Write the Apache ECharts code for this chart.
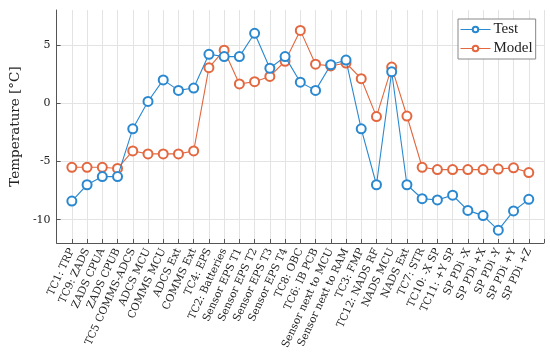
<!DOCTYPE html>
<html>
<head>
<meta charset="utf-8">
<script src="https://cdn.jsdelivr.net/npm/echarts@6/dist/echarts.min.js"></script>
<style>html,body{margin:0;padding:0;background:#fff}#c{width:550px;height:356px}</style>
</head>
<body>
<div id="c"></div>
<script>
const categories = ['TC1: TRP','TC9: ZADS','ZADS CPUA','ZADS CPUB','TC5 COMMS-ADCS','ADCS MCU','COMMS MCU','ADCS Ext','COMMS Ext','TC4: EPS','TC2: Batteries','Sensor EPS T1','Sensor EPS T2','Sensor EPS T3','Sensor EPS T4','TC8: OBC','TC6: IB PCB','Sensor next to MCU','Sensor next to RAM','TC3: FMP','TC12: NADS RF','NADS MCU','NADS Ext','TC7: STR','TC10: -X SP','TC11: +Y SP','SP PDi -X','SP PDi +X','SP PDi -Y','SP PDi +Y','SP PDi +Z'];
const testValues = [-8.4,-7.0,-6.3,-6.3,-2.2,0.15,2.0,1.1,1.3,4.2,4.0,4.0,6.0,3.0,4.0,1.8,1.1,3.3,3.7,-2.2,-7.0,2.7,-7.0,-8.2,-8.3,-7.9,-9.2,-9.65,-10.9,-9.25,-8.25];
const modelValues = [-5.5,-5.5,-5.5,-5.6,-4.1,-4.35,-4.35,-4.35,-4.1,3.05,4.55,1.65,1.85,2.3,3.6,6.25,3.35,3.2,3.45,2.1,-1.15,3.1,-1.1,-5.5,-5.7,-5.7,-5.7,-5.7,-5.65,-5.55,-5.95];
const seriesNames = ['Test','Model'];
const yTitle = 'Temperature [°C]';

const xCats = [''].concat(categories, ['']);
const pad = arr => [null].concat(arr, [null]);
const serif = '"DejaVu Serif", "Liberation Serif", serif';
const grid = '#e3e3e3';
const axisCol = '#555';

const chart = echarts.init(document.getElementById('c'));
chart.setOption({
  animation: false,
  grid: {left: 46, right: 6, top: 10, bottom: 113, containLabel: false},
  legend: {
    data: seriesNames, orient: 'vertical', left: 458, top: 19,
    backgroundColor: '#fff', borderColor: '#888', borderWidth: 1,
    padding: [3, 3, 3, 2], itemGap: 4, itemWidth: 30, itemHeight: 7,
    itemStyle: {borderWidth: 1}, lineStyle: {width: 1},
    textStyle: {fontFamily: '"Liberation Serif", serif', fontSize: 15, color: '#222', padding: [0, 0, 0, -2]}
  },
  xAxis: {
    type: 'category', data: xCats, boundaryGap: false,
    axisLine: {onZero: false, lineStyle: {color: axisCol, width: 1}},
    axisTick: {inside: true, length: 4, interval: 0, lineStyle: {color: axisCol}},
    axisLabel: {interval: 0, rotate: 65, margin: 6, fontFamily: serif, fontSize: 10.5, color: '#222'},
    splitLine: {show: true, interval: 0, lineStyle: {color: grid, width: 1}}
  },
  yAxis: {
    type: 'value', min: -12, max: 8, splitNumber: 4,
    name: yTitle, nameLocation: 'middle', nameGap: 28,
    nameTextStyle: {fontFamily: serif, fontSize: 13.5, color: '#222'},
    axisLine: {show: true, lineStyle: {color: axisCol, width: 1}},
    axisTick: {show: true, inside: true, length: 4, lineStyle: {color: axisCol}},
    axisLabel: {showMinLabel: false, showMaxLabel: false, fontFamily: serif, fontSize: 11, color: '#222', margin: 6},
    splitLine: {show: true, lineStyle: {color: ['transparent', grid, grid, grid, grid, 'transparent'], width: 1}}
  },
  series: [
    {name: seriesNames[0], type: 'line', data: pad(testValues), symbol: 'emptyCircle', symbolSize: 9,
     color: '#2a88d0', lineStyle: {width: 1.1, color: '#2a88d0'}, itemStyle: {color: '#2a88d0', borderWidth: 1.1}, z: 3},
    {name: seriesNames[1], type: 'line', data: pad(modelValues), symbol: 'emptyCircle', symbolSize: 9,
     color: '#e3673f', lineStyle: {width: 1.1, color: '#e3673f'}, itemStyle: {color: '#e3673f', borderWidth: 1.1}, z: 2}
  ]
});
</script>
</body>
</html>
